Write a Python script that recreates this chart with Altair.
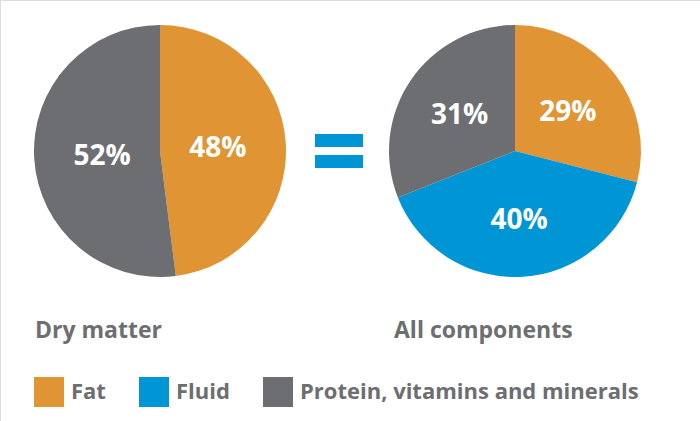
import altair as alt
import pandas as pd

# Composition of milk: dry matter vs. all components
categories = ["Fat", "Fluid", "Protein, vitamins and minerals"]
colors = ["#E09433", "#0096D6", "#6D6E71"]
dry_matter = [48, 0, 52]
all_components = [29, 40, 31]
panel_titles = ["Dry matter", "All components"]

FONT = "Open Sans"
TEXT_GREY = "#6D6E71"


def frame(values):
    rows = [
        {"category": c, "value": v, "rank": i, "label": f"{v}%"}
        for i, (c, v) in enumerate(zip(categories, values))
        if v > 0
    ]
    return pd.DataFrame(rows)


color_scale = alt.Scale(domain=categories, range=colors)
legend = alt.Legend(
    orient="none", legendX=34, legendY=377, direction="horizontal",
    title=None, symbolType="square", symbolSize=900, symbolStrokeWidth=0,
    symbolOpacity=1, labelFont=FONT, labelFontSize=22, labelFontWeight="bold",
    labelColor=TEXT_GREY, labelOffset=7, columnPadding=33, padding=0,
    labelLimit=0,
)


def pie(values, cx, cy, r, label_r, label_dy):
    base = alt.Chart(frame(values)).encode(
        theta=alt.Theta("value:Q", stack=True),
        order=alt.Order("rank:O"),
    )
    arcs = base.mark_arc(outerRadius=r, stroke=None).encode(
        color=alt.Color("category:N", scale=color_scale, legend=legend),
        x=alt.value(cx), y=alt.value(cy),
    )
    labels = base.mark_text(
        radius=label_r, dy=label_dy, font=FONT, fontSize=28,
        fontWeight="bold", color="white", align="center", baseline="middle",
    ).encode(text="label:N", x=alt.value(cx), y=alt.value(cy))
    return arcs + labels


left = pie(dry_matter, 160, 151, 126, 58, 2)
right = pie(all_components, 515, 151, 126, 67, 3)

# equals sign between the two pies
bars = alt.Chart(pd.DataFrame({"k": [0]})).mark_rect(color="#0096D6")
eq_top = bars.encode(x=alt.value(315), x2=alt.value(363),
                     y=alt.value(134), y2=alt.value(147))
eq_bottom = bars.encode(x=alt.value(315), x2=alt.value(363),
                        y=alt.value(155), y2=alt.value(168))

caption = alt.Chart(pd.DataFrame({"k": [0]})).mark_text(
    font=FONT, fontSize=23, fontWeight="bold", color=TEXT_GREY,
    align="left", baseline="alphabetic",
)
cap_left = caption.encode(text=alt.value(panel_titles[0]),
                          x=alt.value(35), y=alt.value(338))
cap_right = caption.encode(text=alt.value(panel_titles[1]),
                           x=alt.value(394), y=alt.value(338))

chart = alt.layer(
    left, right, eq_top, eq_bottom, cap_left, cap_right
).resolve_scale(color="shared").resolve_legend(color="shared").properties(
    width=700, height=421,
    autosize=alt.AutoSizeParams(type="none"), padding=0,
).configure_view(stroke=None).configure(background="white")

chart.save("out.html", embed_options={"renderer": "svg", "actions": False})
